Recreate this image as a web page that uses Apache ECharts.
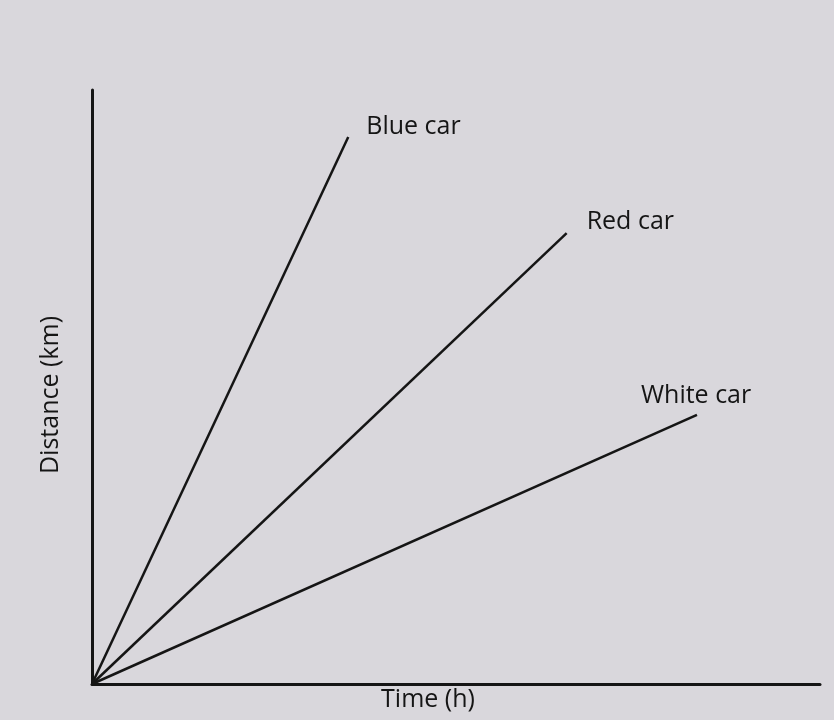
<!DOCTYPE html>
<html><head><meta charset="utf-8">
<script src="https://cdn.jsdelivr.net/npm/echarts@6/dist/echarts.min.js"></script>
<style>html,body{margin:0;padding:0;background:#d9d7dc;}#c{width:834px;height:720px;}</style>
</head><body><div id="c"></div>
<script>
const seriesNames = ["Blue car", "Red car", "White car"];
const blueCar = [[0, 0], [35.2, 92.1]];
const redCar = [[0, 0], [65.2, 75.9]];
const whiteCar = [[0, 0], [83.1, 45.3]];
const xAxisName = "Time (h)";
const yAxisName = "Distance (km)";

const chart = echarts.init(document.getElementById('c'));
const data = [blueCar, redCar, whiteCar];
const offsets = [[10, -10], [12, -11], [-64, -19]];
chart.setOption({
  backgroundColor: '#d9d7dc',
  animation: false,
  grid: {left: 92, right: 14, top: 90, bottom: 36, outerBoundsMode: 'none'},
  xAxis: {
    type: 'value', min: 0, max: 100,
    name: xAxisName, nameLocation: 'middle', nameGap: 3,
    nameTextStyle: {fontFamily: 'Open Sans', fontSize: 25, color: '#151515', padding: [0, 56, 0, 0]},
    axisLine: {lineStyle: {color: '#151515', width: 3}},
    axisTick: {show: false}, axisLabel: {show: false}, splitLine: {show: false}
  },
  yAxis: {
    type: 'value', min: 0, max: 100,
    name: yAxisName, nameLocation: 'middle', nameGap: 29,
    nameTextStyle: {fontFamily: 'Open Sans', fontSize: 25, color: '#151515', padding: [0, 16, 0, 0]},
    axisLine: {lineStyle: {color: '#151515', width: 3}},
    axisTick: {show: false}, axisLabel: {show: false}, splitLine: {show: false}
  },
  series: seriesNames.map((n, i) => ({
    name: n, type: 'line', data: data[i], symbol: 'none',
    lineStyle: {color: '#151515', width: 2.5},
    endLabel: {show: true, formatter: n, fontFamily: 'Open Sans', fontSize: 25, color: '#151515',
      offset: offsets[i]}
  }))
});
</script></body></html>
